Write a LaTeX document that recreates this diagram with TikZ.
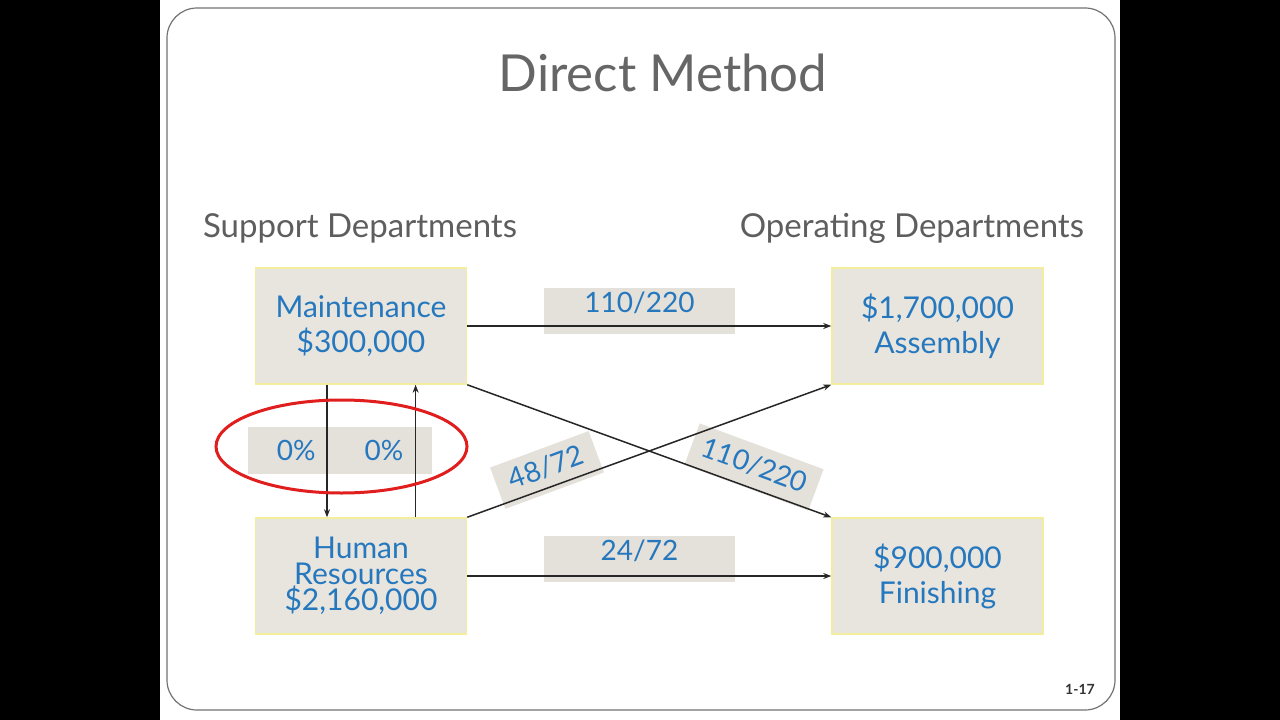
\documentclass[tikz,border=0pt]{standalone}
\usepackage{fontspec}
\setmainfont{Lato}
\usetikzlibrary{arrows.meta, calc, shapes.geometric}
\definecolor{cblue}{HTML}{2578BE}
\definecolor{cbox}{HTML}{E8E4DE}
\definecolor{cedge}{HTML}{F2EE9C}
\definecolor{clbl}{HTML}{E4E0DA}
\definecolor{cgrey}{HTML}{5E5E5E}
\definecolor{cred}{HTML}{E01E1E}
\tikzset{
  every picture/.style={line width=1.4pt},
  dept/.style={draw=cedge, fill=cbox, line width=1.5pt, align=center, text=cblue, font=\fontsize{30}{35}\selectfont, minimum width=211pt, minimum height=116pt, inner sep=0pt},
  lbl/.style={fill=clbl, text=cblue, font=\fontsize{28}{30}\selectfont, inner sep=0pt},
  arrow/.style={-{Stealth[length=8pt, width=6pt]}, draw=black!85, line width=1.5pt},
  head/.style={font=\fontsize{33}{36}\selectfont, text=cgrey},
}
\newcommand{\lift}[2]{\raisebox{#1}[\height][\depth]{#2}}

\begin{document}
\begin{tikzpicture}[x=1pt, y=-1pt]
  % slide
  \fill[black] (0,0) rectangle (1280,720);
  \fill[white] (160,0) rectangle (1120,720);
  \draw[black!55, line width=1.2pt, rounded corners=30pt, fill=white] (167,8) rectangle (1115,710);
  \node[font=\fontsize{51}{56}\selectfont, text=cgrey!95, anchor=base] (title) at (663,91) {Direct Method};
  \node[head, anchor=base west] (sup) at (199,237) {Support Departments};
  \node[head, anchor=base east] (ops) at (1088,237) {Operating Departments};
  \node[font=\rmfamily\bfseries\fontsize{14}{16}\selectfont, text=black!80, anchor=base] (pg) at (1080,694) {1-17};

  % departments
  \node[dept] (maint) at (361,326) {Maintenance\\\$300,000};
  \node[dept, font=\fontsize{30}{26}\selectfont] (hr) at (361,576) {Human\\Resources\\\$2,160,000};
  \node[dept] (asm) at (937.5,326) {\$1,700,000\\Assembly};
  \node[dept] (fin) at (937.5,576) {\$900,000\\Finishing};

  % rates
  \node[lbl, minimum width=191pt, minimum height=46pt] (r1) at (639.5,311) {\lift{8pt}{110/220}};
  \node[lbl, minimum width=191pt, minimum height=46pt] (r2) at (639.5,559) {\lift{8pt}{24/72}};
  \node[lbl, minimum width=105pt, minimum height=44pt, rotate=20.3] (r3) at (547,470) {\lift{3pt}{48/72}};
  \node[lbl, minimum width=132pt, minimum height=44pt, rotate=-20.3] (r4) at (754,467) {\lift{2pt}{110/220}};
  \node[lbl, minimum width=184pt, minimum height=47pt] (zero) at (340,450.5) {0\%\hspace{49pt}0\%};

  % allocations
  \draw[arrow] (maint.east) -- (asm.west);
  \draw[arrow] (maint.south east) -- (fin.north west);
  \draw[arrow] (hr.north east) -- (asm.south west);
  \draw[arrow] (hr.east) -- (fin.west);
  \coordinate (dn) at ($(maint.south west)!0.34!(maint.south east)$);
  \coordinate (up) at ($(hr.north west)!0.757!(hr.north east)$);
  \draw[arrow] (dn) -- (dn |- hr.north);
  \draw[arrow] (up) -- (up |- maint.south);

  \node[draw=cred, ellipse, line width=3pt, minimum width=251pt, minimum height=93pt] (ring) at (341.5,446.5) {};
\end{tikzpicture}
\end{document}
